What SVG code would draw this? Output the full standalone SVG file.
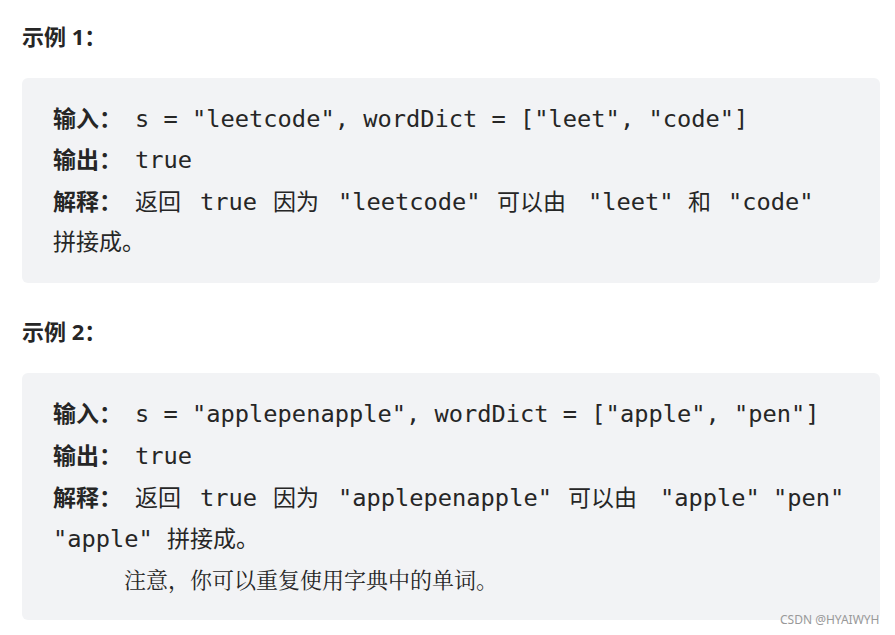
<svg xmlns="http://www.w3.org/2000/svg" width="895" height="635" viewBox="0 0 895 635">
<style>
.h{font-family:"Noto Sans","Noto Sans CJK SC",sans-serif;font-weight:bold;font-size:22px;fill:#262626}
.m{font-family:"DejaVu Sans Mono","Noto Sans CJK SC",monospace;font-size:23.7px;fill:#262626}
.c{font-family:"Noto Sans CJK SC",sans-serif;font-size:23px;fill:#262626}
.b{font-weight:bold}
.s{font-family:"Noto Serif CJK SC","Noto Sans CJK SC",serif;font-size:22px;fill:#262626}
.box{fill:#f2f3f5}
</style>
<rect width="895" height="635" fill="#fff"/>
<text class="h" x="22" y="45">示例 1：</text>
<rect class="box" x="22" y="78" width="858" height="205" rx="6"/>
<text class="c b" x="53" y="127">输入：</text><text class="m" x="135" y="127">s = "leetcode", wordDict = ["leet", "code"]</text>
<text class="c b" x="53" y="168">输出：</text><text class="m" x="135" y="168">true</text>
<text class="c b" x="53" y="210">解释：</text>
<text class="c" x="135" y="210">返回</text><text class="m" x="200" y="210">true</text><text class="c" x="273" y="210">因为</text><text class="m" x="338" y="210">"leetcode"</text><text class="c" x="497" y="210">可以由</text><text class="m" x="588" y="210">"leet"</text><text class="c" x="688" y="210">和</text><text class="m" x="728" y="210">"code"</text>
<text class="c" x="53" y="250">拼接成。</text>
<text class="h" x="22" y="340">示例 2：</text>
<rect class="box" x="22" y="373" width="858" height="247" rx="6"/>
<text class="c b" x="53" y="422">输入：</text><text class="m" x="135" y="422">s = "applepenapple", wordDict = ["apple", "pen"]</text>
<text class="c b" x="53" y="464">输出：</text><text class="m" x="135" y="464">true</text>
<text class="c b" x="53" y="506">解释：</text>
<text class="c" x="135" y="506">返回</text><text class="m" x="200" y="506">true</text><text class="c" x="273" y="506">因为</text><text class="m" x="338" y="506">"applepenapple"</text><text class="c" x="568" y="506">可以由</text><text class="m" x="660" y="506">"apple"</text><text class="m" x="773" y="506">"pen"</text>
<text class="m" x="53" y="547">"apple"</text><text class="c" x="167" y="547">拼接成。</text>
<text class="s" x="124" y="588">注意，你可以重复使用字典中的单词。</text>
<text x="780" y="624" font-family="Noto Sans,sans-serif" font-size="12" fill="#999">CSDN @HYAIWYH</text>
</svg>
